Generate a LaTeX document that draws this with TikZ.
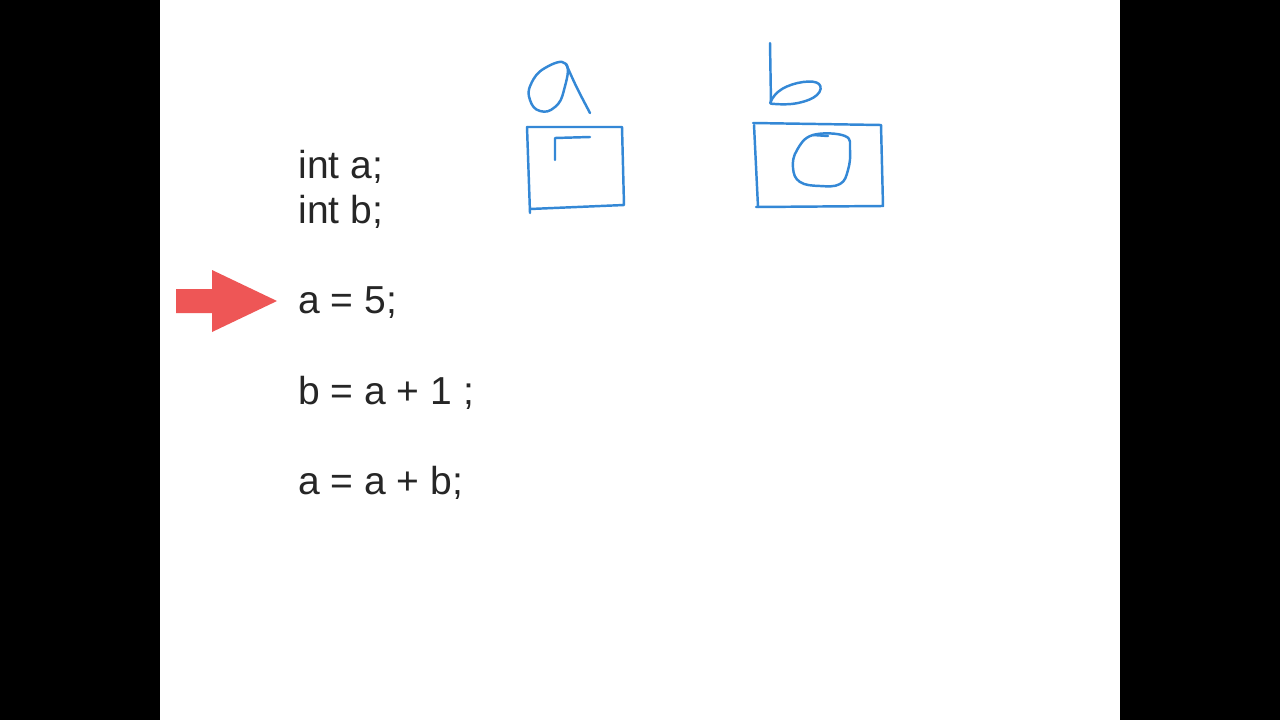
\documentclass[tikz,border=0pt]{standalone}
\usepackage{fontspec}
\setmainfont{Liberation Sans}
\definecolor{pen}{RGB}{52,136,214}
\definecolor{pointer}{RGB}{238,86,86}
\begin{document}
\begin{tikzpicture}[x=0.02cm, y=-0.02cm,
  ink/.style={pen, line width=1.4pt, line cap=round, line join=round},
  code/.style={anchor=base west, inner sep=0pt, font=\fontsize{22.2}{26}\selectfont, text=black!85}]
\useasboundingbox (0,0) rectangle (1280,720);
\fill[white] (0,0) rectangle (1280,720);
\fill[black] (0,0) rectangle (160,720);
\fill[black] (1120,0) rectangle (1280,720);
\node[code] (decl_a) at (298,178) {int a;};
\node[code] (decl_b) at (298,223) {int b;};
\node[code] (assign_a) at (298,313) {a = 5;};
\node[code] (assign_b) at (298,404) {b = a + 1 ;};
\node[code] (sum_a) at (298,494) {a = a + b;};
\fill[pointer] (176,289) -- (212,289) -- (212,270) -- (277,301) -- (212,332) -- (212,313) -- (176,313) -- cycle;
\draw[ink] plot[smooth cycle, tension=0.8] coordinates {(566,64) (545,68) (531,84) (530,100) (540,111) (555,107) (564,90)};
\draw[ink] plot[smooth] coordinates {(566,64) (577,88) (590,113)};
\draw[ink] (527,127) -- (622,127) -- (624,205) -- (530,209);
\draw[ink] (527,127) -- (530,213);
\draw[ink] (555,160) -- (555,138) -- (590,137);
\draw[ink] (770,43) -- (771,103);
\draw[ink] plot[smooth cycle, tension=0.7] coordinates {(771,101) (782,89) (803,82) (819,84) (817,95) (798,103) (775,104)};
\draw[ink] (753,123) -- (881,125) -- (883,206) -- (756,207);
\draw[ink] (754,125) -- (758,207);
\draw[ink] plot[smooth cycle, tension=0.7] coordinates {(813,135) (845,136) (850,150) (848,170) (840,184) (820,186) (800,182) (793,168) (797,150)};
\draw[ink] (813,135) -- (828,136);
\end{tikzpicture}
\end{document}
